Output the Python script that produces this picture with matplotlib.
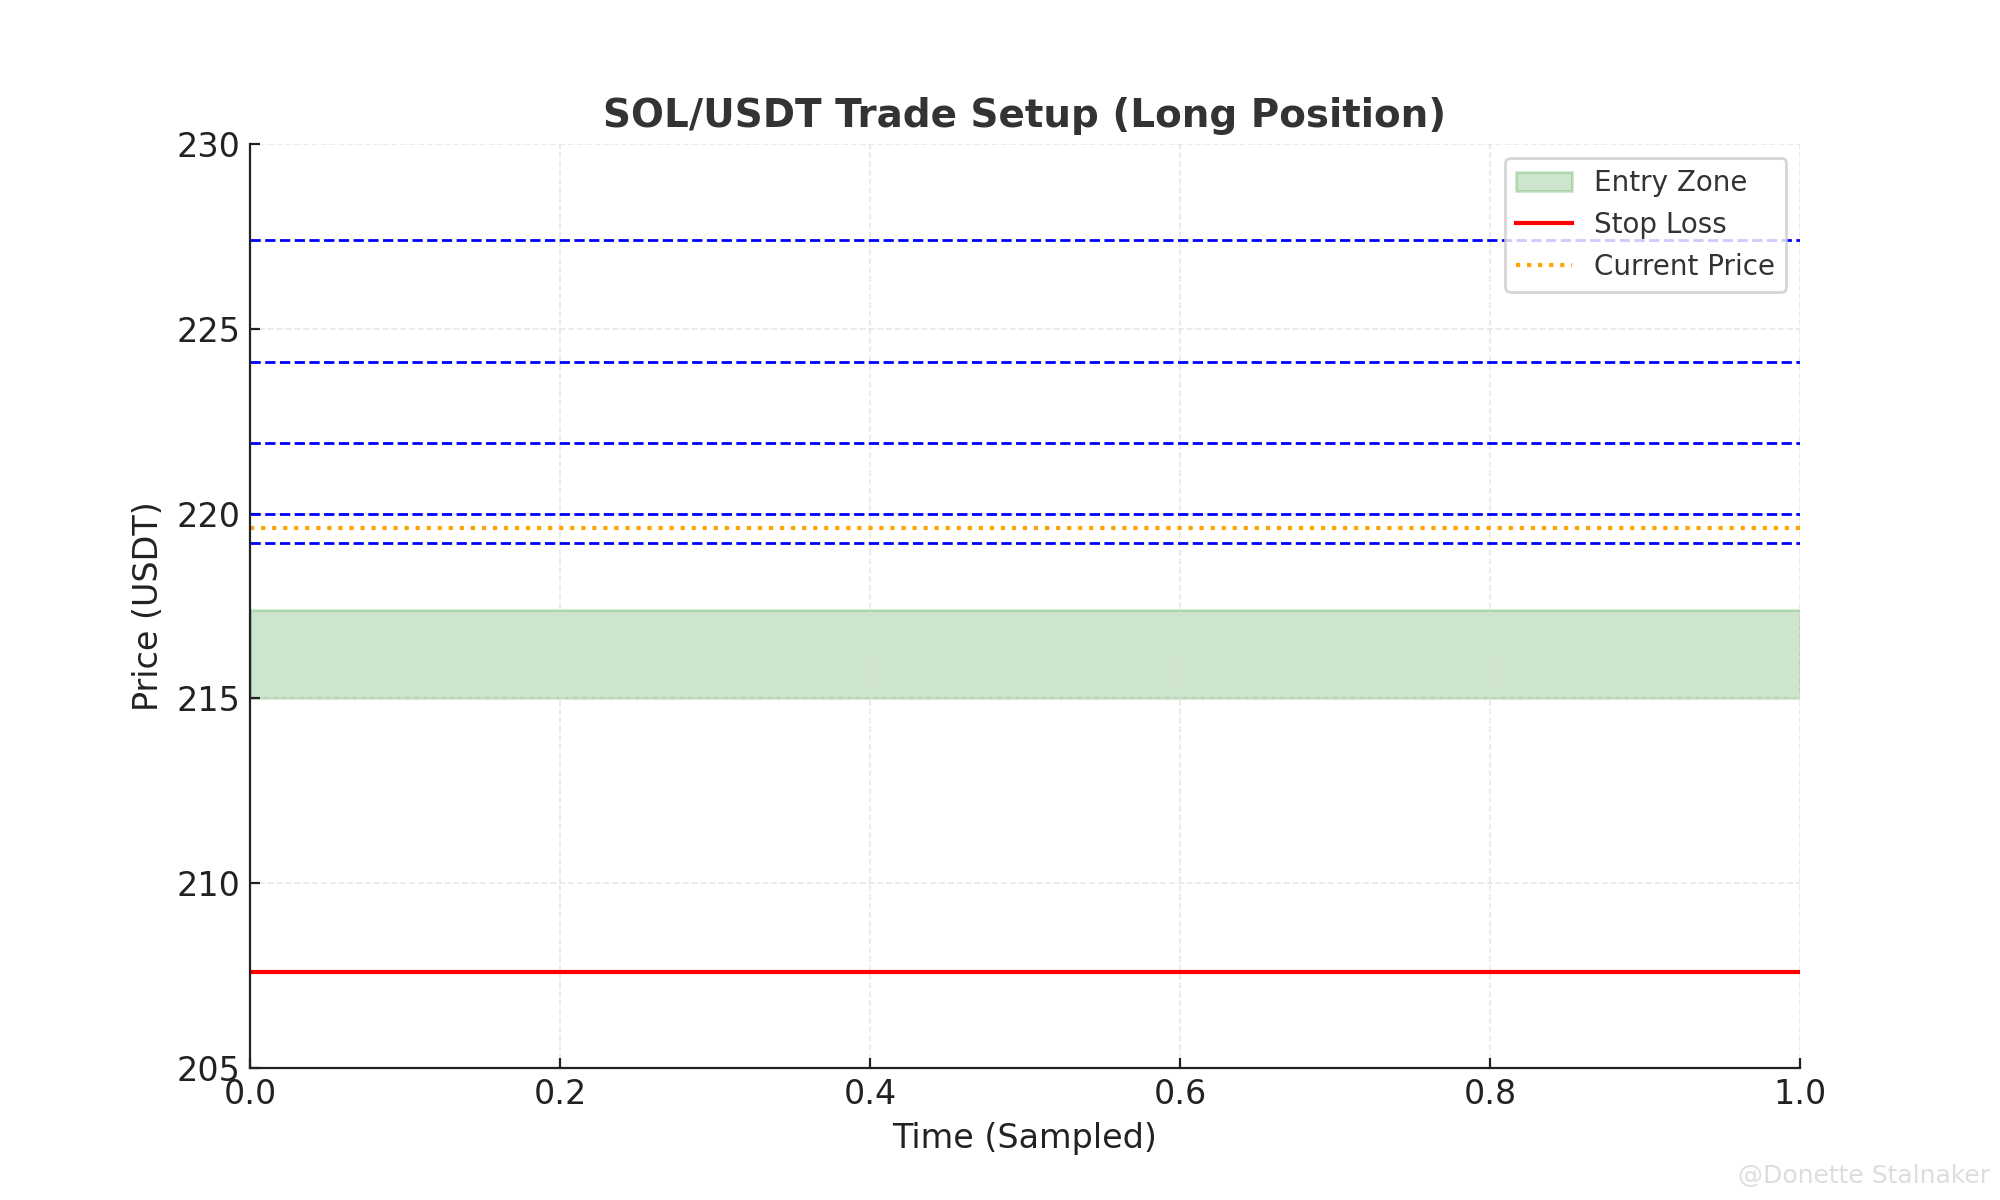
import matplotlib.pyplot as plt

# Trade levels (USDT)
entry_zone = [215.0, 217.4]
stop_loss = 207.6
current_price = 219.6
target_levels = [219.2, 220.0, 221.9, 224.1, 227.4]

plt.rcParams['font.family'] = 'DejaVu Sans'
plt.rcParams['text.color'] = '#333333'
plt.rcParams['axes.labelcolor'] = '#222222'

fig, ax = plt.subplots(figsize=(10, 6), dpi=200)

ax.axhspan(entry_zone[0], entry_zone[1], color='green', alpha=0.2, label='Entry Zone')
ax.axhline(stop_loss, color='red', linewidth=1.5, label='Stop Loss')
ax.axhline(current_price, color='orange', linestyle=':', linewidth=1.5, label='Current Price')
for t in target_levels:
    ax.axhline(t, color='blue', linestyle='--', linewidth=1.0)

ax.set_xlim(0, 1)
ax.set_ylim(205, 230)
ax.set_title('SOL/USDT Trade Setup (Long Position)', fontsize=14, fontweight='bold', color='#333333')
ax.set_xlabel('Time (Sampled)', fontsize=12)
ax.set_ylabel('Price (USDT)', fontsize=12)
ax.tick_params(labelsize=12, direction='in', colors='#222222')
ax.grid(True, linestyle='--', color='#dddddd', linewidth=0.6, alpha=0.7)
ax.spines['top'].set_visible(False)
ax.spines['right'].set_visible(False)
for s in ('left', 'bottom'):
    ax.spines[s].set_color('#222222')
ax.legend(loc='upper right', fontsize=10)

fig.text(0.995, 0.01, '@Donette Stalnaker', ha='right', va='bottom', fontsize=9, color='#dddddd')

fig.savefig('out.png')
